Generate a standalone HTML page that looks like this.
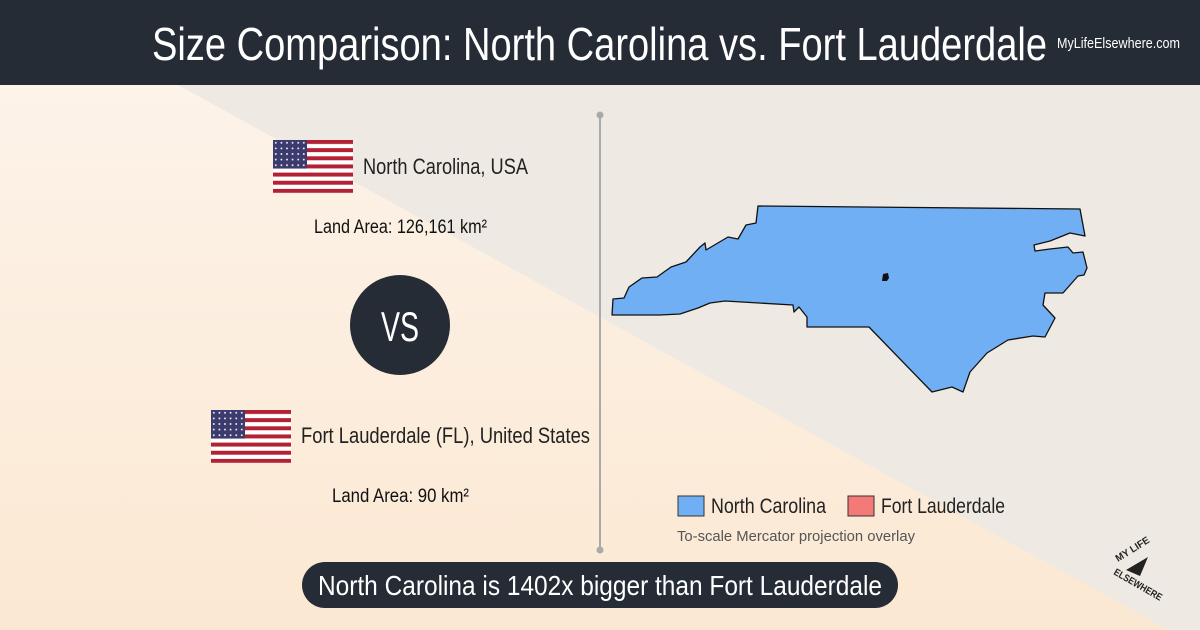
<!DOCTYPE html>
<html><head><meta charset="utf-8"><style>
html,body{margin:0;padding:0;width:1200px;height:630px;overflow:hidden}
svg{display:block}
text{font-family:"Liberation Sans Narrow","Liberation Sans",sans-serif}
</style></head><body>
<svg width="1200" height="630" viewBox="0 0 1200 630" xmlns="http://www.w3.org/2000/svg">
<defs>
<linearGradient id="warm" x1="0" y1="0" x2="0" y2="1">
<stop offset="0" stop-color="#fdf3e9"/><stop offset="1" stop-color="#fbe8d2"/>
</linearGradient>
<pattern id="stripes" x="0" y="0" width="80" height="8.15" patternUnits="userSpaceOnUse">
<rect width="80" height="4.08" fill="#b22234"/><rect y="4.08" width="80" height="4.08" fill="#fff"/>
</pattern>
<pattern id="stars" width="5.6" height="5.6" patternUnits="userSpaceOnUse"><circle cx="2.8" cy="2.8" r="0.9" fill="#fff"/></pattern>
<g id="flag">
<rect width="80" height="53" fill="url(#stripes)"/>
<rect width="34" height="28.5" fill="#3c3b6e"/>
<rect x="1" y="1" width="32" height="27" fill="url(#stars)"/>
</g>
</defs>
<rect width="1200" height="630" fill="#efe9e3"/>
<polygon points="0,85 178,85 1169,630 0,630" fill="url(#warm)"/>
<rect width="1200" height="85" fill="#252c35"/>
<text x="152" y="60" font-size="46" fill="#fff" textLength="895" lengthAdjust="spacingAndGlyphs">Size Comparison: North Carolina vs. Fort Lauderdale</text>
<text x="1057" y="48" font-size="15" fill="#fff" textLength="123" lengthAdjust="spacingAndGlyphs">MyLifeElsewhere.com</text>

<use href="#flag" x="273" y="140"/>
<text x="363" y="174" font-size="22" fill="#222" textLength="165" lengthAdjust="spacingAndGlyphs">North Carolina, USA</text>
<text x="314" y="233" font-size="19" fill="#111" textLength="173" lengthAdjust="spacingAndGlyphs">Land Area: 126,161 km²</text>
<circle cx="400" cy="325" r="50" fill="#252c35"/>
<text x="381" y="341" font-size="42" fill="#fff" textLength="38" lengthAdjust="spacingAndGlyphs">VS</text>
<use href="#flag" x="211" y="410"/>
<text x="301" y="443" font-size="22" fill="#222" textLength="289" lengthAdjust="spacingAndGlyphs">Fort Lauderdale (FL), United States</text>
<text x="332" y="502" font-size="19" fill="#111" textLength="137" lengthAdjust="spacingAndGlyphs">Land Area: 90 km²</text>

<line x1="600" y1="115" x2="600" y2="550" stroke="#aaa" stroke-width="2"/>
<circle cx="600" cy="115" r="3.5" fill="#aaa"/><circle cx="600" cy="550" r="3.5" fill="#aaa"/>

<polygon fill="#71aff5" stroke="#111" stroke-width="1.3" stroke-linejoin="round" points="612,315 613,299 624,298 629,287 642,278 657,277 671,267 686,262 700,247 705,243 706,250 728,237 738,239 746,225 756,223 758,206 1080,209 1085,236 1070,233 1050,241 1034,245 1035,251 1050,249 1068,247 1073,253 1083,252 1087,268 1084,275 1078,276 1063,293 1045,293 1043,305 1055,318 1045,337 1033,336 1008,340 987,353 970,372 963,392 952,387 932,392 869,327 807,327 807,317 799,307 794,312 793,305 725,301 710,303 698,308 680,314 660,315"/>
<path d="M883,274 l5,-1 l1,5 l-2,3 l-5,0 z" fill="#111"/>

<rect x="678" y="496" width="26" height="20" fill="#71aff5" stroke="#333" stroke-width="1"/>
<text x="711" y="513" font-size="21" fill="#222" textLength="115" lengthAdjust="spacingAndGlyphs">North Carolina</text>
<rect x="848" y="496" width="26" height="20" fill="#f47a7a" stroke="#333" stroke-width="1"/>
<text x="881" y="513" font-size="21" fill="#222" textLength="124" lengthAdjust="spacingAndGlyphs">Fort Lauderdale</text>
<text x="677" y="541" font-size="15" fill="#555" textLength="238" lengthAdjust="spacingAndGlyphs">To-scale Mercator projection overlay</text>

<rect x="302" y="562" width="596" height="46" rx="23" fill="#252c35"/>
<text x="318" y="595" font-size="28" fill="#fff" textLength="564" lengthAdjust="spacingAndGlyphs">North Carolina is 1402x bigger than Fort Lauderdale</text>

<text x="0" y="0" font-size="10" font-weight="bold" fill="#222" transform="translate(1118,562) rotate(-32)" textLength="38" lengthAdjust="spacingAndGlyphs">MY LIFE</text>
<text x="0" y="0" font-size="10" font-weight="bold" fill="#222" transform="translate(1113,574) rotate(30)" textLength="54" lengthAdjust="spacingAndGlyphs">ELSEWHERE</text>
<polygon points="1126,570 1148,557 1140,576" fill="#222"/>
</svg>
</body></html>
